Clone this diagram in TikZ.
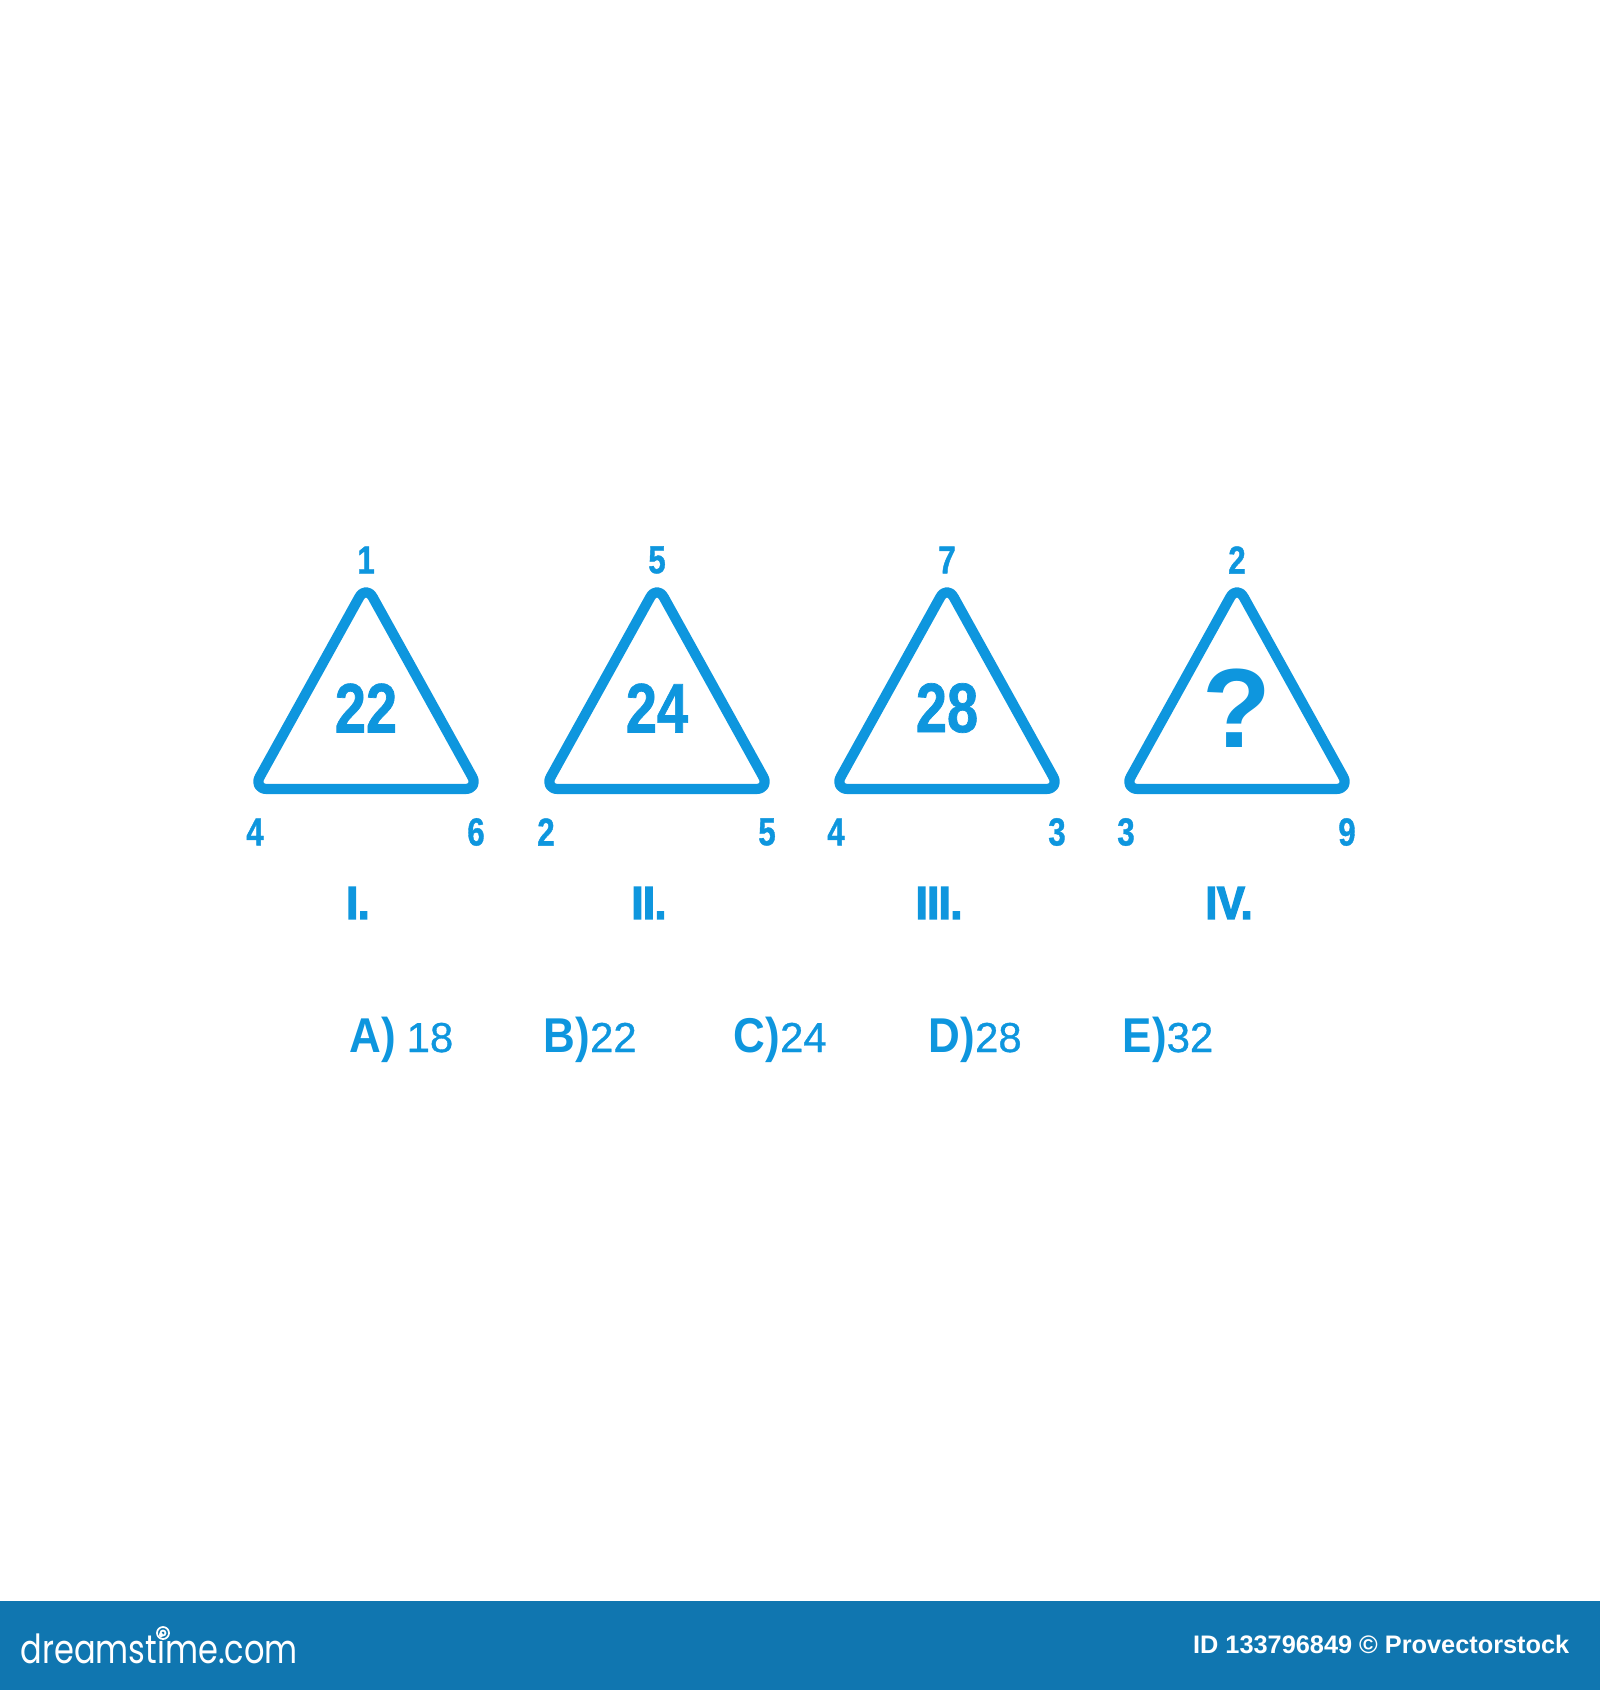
\documentclass[tikz,border=0pt]{standalone}
\usepackage{fontspec}
\usepackage{tikz}
\usetikzlibrary{positioning}
\definecolor{triblue}{RGB}{14,150,222}
\definecolor{barblue}{RGB}{16,118,176}
\newfontfamily\condfont[FakeStretch=0.8,FakeBold=1]{Liberation Sans Bold}
\newfontfamily\queryfont{Liberation Sans Bold}
\newfontfamily\romanfont[FakeStretch=0.9,FakeBold=3.5]{Liberation Sans Bold}
\newfontfamily\letterfont[FakeStretch=0.9]{Liberation Sans Bold}
\newfontfamily\numfont[FakeBold=0.8]{Liberation Sans}
\newfontfamily\logofont[FakeStretch=0.8]{Poppins}
\newfontfamily\idfont{Liberation Sans Bold}

\begin{document}
\begin{tikzpicture}[x=0.01cm,y=-0.01cm]
    \useasboundingbox (0,0) rectangle (1600,1690);
    \tikzstyle{Side}=[draw=triblue,line width=2.9pt,rounded corners=4pt,line join=round]
    \tikzstyle{Corner}=[text=triblue,inner sep=0pt,font=\condfont\fontsize{11.1}{13}\selectfont]
    \tikzstyle{Middle}=[text=triblue,inner sep=0pt,font=\condfont\fontsize{19.9}{22}\selectfont]
    \tikzstyle{Query}=[text=triblue,inner sep=0pt,font=\queryfont\fontsize{32}{36}\selectfont]
    \tikzstyle{Roman}=[text=triblue,inner sep=0pt,font=\romanfont\fontsize{13.1}{15}\selectfont]
    \tikzstyle{Answer}=[text=triblue,inner sep=0pt,anchor=base west]
    \foreach \cx/\n/\t/\l/\r/\m/\s/\k in {366/1/1/4/6/22/Middle/I.,
                                           657/2/5/2/5/24/Middle/II.,
                                           947/3/7/4/3/28/Middle/III.,
                                           1237/4/2/3/9/?/Query/IV.}{
        \coordinate (a\n) at (\cx,585);
        \coordinate (b\n) at (\cx-113,789);
        \coordinate (c\n) at (\cx+113,789);
        \draw[Side] (a\n) -- (b\n) -- (c\n) -- cycle;
        \node[Corner] (top\n) at (\cx,560) {\t};
        \node[Corner] (left\n) at (\cx-111,832) {\l};
        \node[Corner] (right\n) at (\cx+110,832) {\r};
        \node[\s] (mid\n) at (\cx,708) {\m};
        \node[Roman] (lab\n) at (\cx-8,903) {\k};
    }
    \node[Answer] (ansA) at (349,1052) {{\letterfont\fontsize{13.9}{16}\selectfont A)}\hspace{3pt}{\numfont\fontsize{11.9}{14}\selectfont 18}};
    \node[Answer] (ansB) at (543,1052) {{\letterfont\fontsize{13.9}{16}\selectfont B)}{\numfont\fontsize{11.9}{14}\selectfont 22}};
    \node[Answer] (ansC) at (733,1052) {{\letterfont\fontsize{13.9}{16}\selectfont C)}{\numfont\fontsize{11.9}{14}\selectfont 24}};
    \node[Answer] (ansD) at (928,1052) {{\letterfont\fontsize{13.9}{16}\selectfont D)}{\numfont\fontsize{11.9}{14}\selectfont 28}};
    \node[Answer] (ansE) at (1122,1052) {{\letterfont\fontsize{13.9}{16}\selectfont E)}{\numfont\fontsize{11.9}{14}\selectfont 32}};
    \fill[barblue] (0,1601) rectangle (1600,1690);
    \node[text=white,inner sep=0pt,anchor=base west,font=\logofont\fontsize{11.4}{13}\selectfont] (logo) at (20,1663) {dreamstime.com};
    \draw[white,line width=0.5pt] (163,1633) circle (6) (163,1633) circle (2.5);
    \node[text=white,inner sep=0pt,anchor=base east,font=\idfont\fontsize{7.2}{9}\selectfont] (credit) at (1570,1653) {ID 133796849 © Provectorstock};
\end{tikzpicture}
\end{document}
